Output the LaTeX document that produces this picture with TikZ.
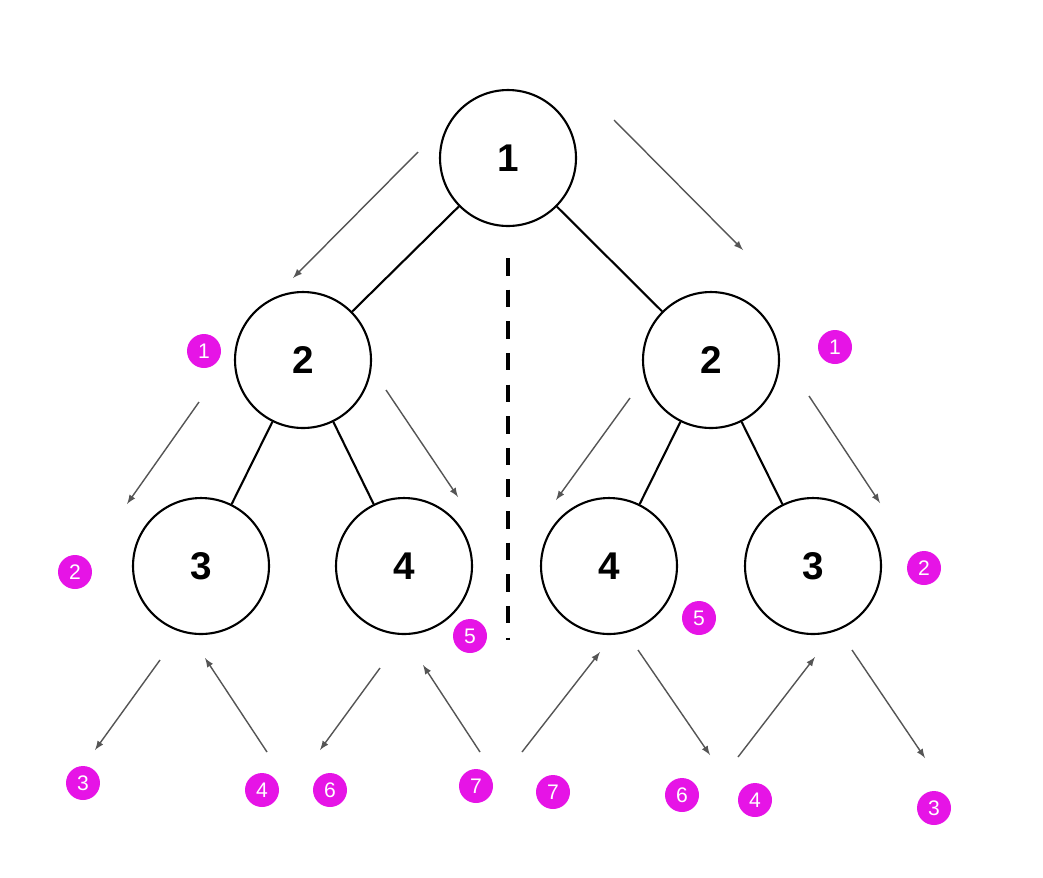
\documentclass[tikz,border=0pt]{standalone}
\usepackage{fontspec}
\setmainfont{Liberation Sans}
\tikzset{
  tnode/.style={circle, draw, line width=1.2pt, minimum size=2.72cm, font=\bfseries\fontsize{22}{22}\selectfont},
  tag/.style={circle, fill={rgb,255:red,230;green,20;blue,230}, text=white, minimum size=0.68cm, inner sep=0pt, font=\fontsize{12}{12}\selectfont},
  walk/.style={-latex, draw={rgb,255:red,85;green,85;blue,85}, line width=0.8pt}
}
\begin{document}
\begin{tikzpicture}[x=0.02cm, y=-0.02cm]
\useasboundingbox (0,0) rectangle (1043,877);
\node[tnode] (tid1) at (508,158){1};
\node[tnode] (tid2a) at (303,360){2};
\node[tnode] (tid2b) at (711,360){2};
\node[tnode] (tid3a) at (201,566){3};
\node[tnode] (tid4a) at (404,566){4};
\node[tnode] (tid4b) at (609,566){4};
\node[tnode] (tid3b) at (813,566){3};
\draw[line width=1.2pt](tid1) -- (tid2a);
\draw[line width=1.2pt](tid1) -- (tid2b);
\draw[line width=1.2pt](tid2a) -- (tid3a);
\draw[line width=1.2pt](tid2a) -- (tid4a);
\draw[line width=1.2pt](tid2b) -- (tid4b);
\draw[line width=1.2pt](tid2b) -- (tid3b);
\coordinate (d0) at (508,258);
\coordinate (d1) at (508,640);
\draw[line width=2pt, dash pattern=on 10pt off 8pt](d0) -- (d1);
% traversal arrows
\foreach \i/\ax/\ay/\bx/\by in {1/418/152/293/278, 2/614/120/743/250, 3/199/402/127/504,
  4/386/390/458/497, 5/630/398/556/500, 6/809/396/880/503, 7/160/660/95/750,
  8/267/752/205/658, 9/380/668/320/750, 10/480/752/423/665, 11/522/752/600/652,
  12/638/650/710/755, 13/738/757/815/657, 14/852/650/925/758}{
  \coordinate (s\i) at (\ax,\ay);
  \coordinate (e\i) at (\bx,\by);
  \draw[walk](s\i) -- (e\i);
}
% order tags
\node[tag] (k1a) at (204,351){1};
\node[tag] (k1b) at (835,347){1};
\node[tag] (k2a) at (75,572){2};
\node[tag] (k2b) at (924,568){2};
\node[tag] (k5a) at (470,636){5};
\node[tag] (k5b) at (699,618){5};
\node[tag] (k3a) at (83,783){3};
\node[tag] (k4a) at (262,790){4};
\node[tag] (k6a) at (330,790){6};
\node[tag] (k7a) at (476,786){7};
\node[tag] (k7b) at (553,792){7};
\node[tag] (k6b) at (682,795){6};
\node[tag] (k4b) at (755,800){4};
\node[tag] (k3b) at (934,808){3};
\end{tikzpicture}
\end{document}
